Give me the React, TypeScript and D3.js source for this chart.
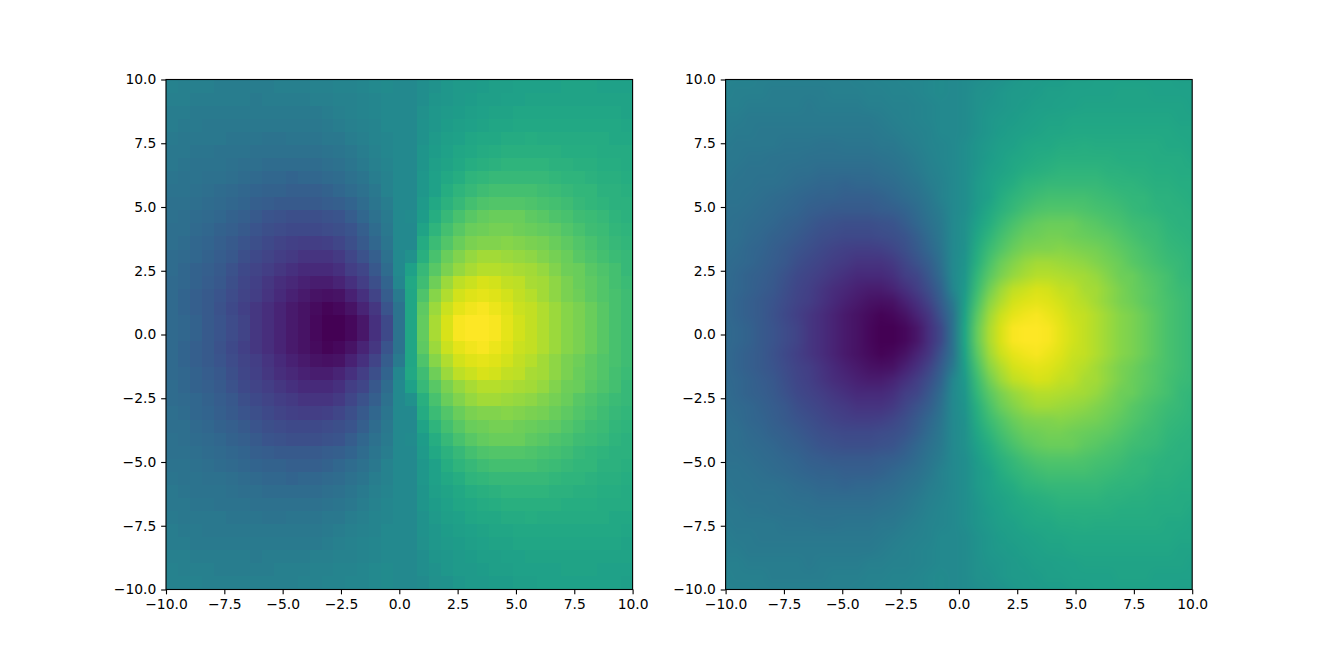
import React, { useEffect, useMemo, useRef } from 'react';
import { axisBottom, axisLeft, format, interpolateViridis, range, rgb, scaleLinear, select } from 'd3';

const WIDTH = 1324;
const HEIGHT = 662;
const PANEL_WIDTH = 466.6;
const PANEL_HEIGHT = 510;
const PANEL_TOP = 79.5;
const PANEL_LEFTS = [166, 725.6];
const TICK_LENGTH = 4.86;
const TICK_PAD = 4.86;
const LINE_WIDTH = 1.11;
const FONT = { family: '"DejaVu Sans"', size: 13.89 };

const TICK_VALUES = [-10, -7.5, -5, -2.5, 0, 2.5, 5, 7.5, 10];
const DOMAIN = [-10, 10];
const GRID_SIZE = 40;

// colour position (0-100), one row per grid line from y=10 down to y=0.26.
// The picture is mirror-symmetric about y=0, so the lower half reuses these rows.
const zUpper = [
  [44, 44, 44, 43, 43, 43, 43, 43, 43, 43, 43, 44, 44, 45, 45, 46, 46, 47, 48, 47, 48, 49, 50, 51, 53, 54, 54, 55, 55, 56, 56, 57, 57, 57, 57, 57, 57, 57, 56, 56],
  [44, 43, 43, 43, 42, 42, 42, 42, 42, 43, 43, 43, 44, 44, 45, 45, 46, 47, 48, 47, 48, 50, 51, 53, 54, 54, 55, 56, 56, 57, 57, 57, 57, 58, 58, 58, 57, 57, 57, 57],
  [43, 43, 42, 42, 42, 42, 42, 41, 42, 42, 42, 42, 43, 43, 44, 44, 45, 46, 47, 47, 48, 50, 52, 53, 54, 55, 56, 56, 57, 57, 58, 58, 58, 58, 58, 58, 58, 58, 58, 57],
  [42, 42, 41, 41, 41, 41, 41, 41, 41, 41, 41, 41, 41, 42, 43, 44, 45, 46, 47, 47, 48, 51, 53, 54, 55, 56, 57, 58, 58, 59, 59, 59, 59, 59, 59, 59, 59, 59, 58, 58],
  [42, 41, 41, 40, 40, 40, 40, 40, 40, 40, 40, 40, 40, 41, 42, 43, 44, 45, 47, 47, 48, 51, 53, 55, 56, 57, 58, 59, 59, 60, 60, 60, 60, 60, 60, 60, 60, 60, 59, 59],
  [41, 40, 40, 40, 40, 39, 39, 39, 38, 38, 39, 39, 39, 40, 40, 42, 43, 45, 46, 47, 49, 52, 54, 56, 57, 59, 60, 60, 61, 61, 62, 61, 61, 61, 61, 61, 61, 60, 60, 59],
  [40, 40, 39, 39, 38, 38, 38, 37, 37, 37, 37, 37, 37, 38, 39, 40, 42, 44, 46, 47, 49, 52, 55, 57, 59, 60, 61, 62, 63, 63, 63, 63, 63, 62, 62, 62, 61, 61, 61, 60],
  [40, 39, 38, 38, 38, 37, 36, 36, 35, 35, 35, 35, 35, 36, 37, 39, 41, 43, 45, 47, 49, 53, 56, 58, 60, 62, 63, 64, 65, 65, 65, 65, 64, 64, 63, 63, 62, 62, 61, 61],
  [39, 38, 38, 37, 37, 36, 35, 34, 33, 33, 32, 33, 33, 34, 35, 37, 39, 42, 44, 47, 49, 54, 57, 60, 62, 65, 66, 67, 67, 67, 67, 67, 66, 65, 65, 64, 63, 63, 62, 62],
  [38, 38, 37, 36, 35, 34, 33, 32, 31, 31, 30, 30, 30, 31, 33, 35, 37, 40, 44, 47, 49, 54, 57, 62, 65, 67, 69, 70, 70, 70, 70, 69, 68, 67, 66, 66, 64, 64, 63, 62],
  [37, 37, 36, 35, 34, 33, 32, 30, 29, 28, 28, 28, 28, 29, 30, 32, 35, 39, 42, 47, 49, 55, 60, 64, 67, 70, 72, 73, 73, 73, 72, 71, 70, 69, 67, 66, 65, 64, 64, 63],
  [37, 36, 35, 34, 33, 31, 30, 28, 26, 25, 24, 24, 24, 25, 26, 29, 33, 37, 41, 47, 50, 57, 62, 67, 71, 74, 76, 77, 77, 77, 75, 74, 72, 71, 69, 68, 67, 65, 64, 64],
  [36, 36, 34, 33, 31, 30, 28, 26, 24, 23, 22, 22, 22, 23, 24, 26, 30, 35, 40, 47, 50, 59, 65, 70, 74, 77, 78, 79, 79, 78, 77, 76, 75, 73, 71, 69, 68, 66, 65, 64],
  [36, 35, 33, 32, 30, 28, 26, 24, 22, 20, 19, 18, 18, 19, 21, 24, 28, 33, 39, 47, 51, 61, 68, 73, 77, 80, 81, 81, 82, 81, 80, 79, 77, 75, 73, 71, 69, 67, 66, 65],
  [35, 34, 33, 31, 29, 27, 24, 22, 20, 18, 17, 15, 15, 15, 17, 21, 25, 30, 37, 47, 52, 63, 71, 77, 81, 84, 86, 86, 85, 84, 83, 81, 79, 77, 74, 72, 70, 68, 67, 65],
  [35, 33, 31, 30, 28, 25, 22, 20, 18, 16, 14, 12, 12, 12, 14, 18, 21, 27, 35, 47, 53, 66, 74, 80, 84, 87, 89, 89, 88, 87, 86, 84, 81, 78, 77, 74, 72, 70, 67, 66],
  [34, 33, 31, 29, 27, 24, 21, 19, 16, 13, 11, 9, 8, 8, 10, 14, 18, 24, 32, 46, 54, 68, 78, 85, 90, 92, 94, 93, 91, 90, 87, 86, 83, 80, 77, 75, 73, 70, 68, 67],
  [34, 32, 30, 28, 26, 23, 20, 18, 15, 12, 9, 7, 5, 4, 5, 9, 14, 20, 29, 41, 56, 71, 82, 88, 93, 95, 96, 95, 93, 91, 89, 86, 83, 80, 78, 75, 73, 71, 69, 67],
  [34, 32, 30, 28, 25, 22, 19, 16, 13, 10, 7, 5, 3, 1, 2, 5, 10, 16, 26, 38, 58, 74, 85, 92, 96, 98, 99, 97, 95, 92, 91, 88, 85, 82, 80, 77, 74, 71, 69, 67],
  [34, 33, 31, 28, 26, 23, 20, 16, 13, 10, 7, 5, 2, 0, 0, 2, 6, 14, 22, 38, 59, 76, 87, 94, 99, 100, 100, 99, 96, 93, 91, 88, 85, 82, 80, 77, 74, 71, 69, 67],
];
const zGrid = [...zUpper, ...[...zUpper].reverse()];

// the coarse panel is blockier than the smooth one just right of x=0, these are its two columns
const flatCol20 = [47, 47, 47, 47, 47, 47, 47, 47, 47, 47, 47, 48, 47, 47, 50, 57, 60, 59, 59, 59];
const flatCol21 = [48, 49, 49, 50, 51, 51, 52, 52, 53, 53, 54, 55, 58, 61, 63, 67, 69, 72, 75, 76];
const flatOverride = {
  20: [...flatCol20, ...[...flatCol20].reverse()],
  21: [...flatCol21, ...[...flatCol21].reverse()],
};

const STYLES = {
  svg: { position: 'absolute', left: 0, top: 0, background: '#fff' },
};

const colorAt = (value) => interpolateViridis(value / 100);

// paints the vertex colours blended across each grid square, same idea as gouraud shading
const buildSmoothImage = (width, height) => {
  const colors = zGrid.map((row) => row.map((value) => rgb(colorAt(value))));
  const canvas = document.createElement('canvas');
  canvas.width = width;
  canvas.height = height;
  const ctx = canvas.getContext('2d');
  const image = ctx.createImageData(width, height);
  const last = GRID_SIZE - 1;
  for (let py = 0; py < height; py++) {
    const gy = ((py + 0.5) / height) * last;
    const r0 = Math.min(Math.floor(gy), last - 1);
    const fy = gy - r0;
    for (let px = 0; px < width; px++) {
      const gx = ((px + 0.5) / width) * last;
      const c0 = Math.min(Math.floor(gx), last - 1);
      const fx = gx - c0;
      const a = colors[r0][c0];
      const b = colors[r0][c0 + 1];
      const c = colors[r0 + 1][c0];
      const d = colors[r0 + 1][c0 + 1];
      const mix = (key) =>
        (a[key] * (1 - fx) + b[key] * fx) * (1 - fy) + (c[key] * (1 - fx) + d[key] * fx) * fy;
      const i = (py * width + px) * 4;
      image.data[i] = mix('r');
      image.data[i + 1] = mix('g');
      image.data[i + 2] = mix('b');
      image.data[i + 3] = 255;
    }
  }
  ctx.putImageData(image, 0, 0);
  return canvas.toDataURL();
};

const Axes = ({ left, children }) => {
  const bottomRef = useRef(null);
  const leftRef = useRef(null);
  const xScale = scaleLinear().domain(DOMAIN).range([left, left + PANEL_WIDTH]);
  const yScale = scaleLinear().domain(DOMAIN).range([PANEL_TOP + PANEL_HEIGHT, PANEL_TOP]);

  useEffect(() => {
    const style = (g) => {
      g.select('.domain').remove();
      g.attr('font-family', FONT.family).attr('font-size', FONT.size);
      g.selectAll('line').attr('stroke-width', LINE_WIDTH);
    };
    select(bottomRef.current)
      .call(axisBottom(xScale).tickValues(TICK_VALUES).tickFormat(format('.1f')).tickSize(TICK_LENGTH).tickPadding(TICK_PAD))
      .call(style);
    select(leftRef.current)
      .call(axisLeft(yScale).tickValues(TICK_VALUES).tickFormat(format('.1f')).tickSize(TICK_LENGTH).tickPadding(TICK_PAD))
      .call(style);
  }, [left]);

  return (
    <g>
      {children(xScale, yScale)}
      <rect
        x={left}
        y={PANEL_TOP}
        width={PANEL_WIDTH}
        height={PANEL_HEIGHT}
        fill="none"
        stroke="#000"
        strokeWidth={LINE_WIDTH}
      />
      <g ref={bottomRef} transform={`translate(0, ${PANEL_TOP + PANEL_HEIGHT})`} />
      <g ref={leftRef} transform={`translate(${left}, 0)`} />
    </g>
  );
};

export default function App() {
  const gridScale = scaleLinear().domain([0, GRID_SIZE - 1]).range(DOMAIN);
  const smoothImage = useMemo(
    () => buildSmoothImage(Math.round(PANEL_WIDTH), Math.round(PANEL_HEIGHT)),
    []
  );

  return (
    <svg width={WIDTH} height={HEIGHT} style={STYLES.svg}>
      <Axes left={PANEL_LEFTS[0]}>
        {(x, y) =>
          // flat cells: each one takes the value of its lower left grid point
          range(GRID_SIZE - 1).map((row) =>
            range(GRID_SIZE - 1).map((col) => {
              const yTop = y(gridScale(GRID_SIZE - 1 - row));
              const yBottom = y(gridScale(GRID_SIZE - 2 - row));
              const value = flatOverride[col] ? flatOverride[col][row + 1] : zGrid[row + 1][col];
              return (
                <rect
                  key={`${row}-${col}`}
                  x={x(gridScale(col))}
                  y={yTop}
                  width={x(gridScale(col + 1)) - x(gridScale(col))}
                  height={yBottom - yTop}
                  fill={colorAt(value)}
                  shapeRendering="crispEdges"
                />
              );
            })
          )
        }
      </Axes>
      <Axes left={PANEL_LEFTS[1]}>
        {(x, y) => (
          <image
            href={smoothImage}
            x={x(DOMAIN[0])}
            y={y(DOMAIN[1])}
            width={PANEL_WIDTH}
            height={PANEL_HEIGHT}
            preserveAspectRatio="none"
          />
        )}
      </Axes>
    </svg>
  );
}
